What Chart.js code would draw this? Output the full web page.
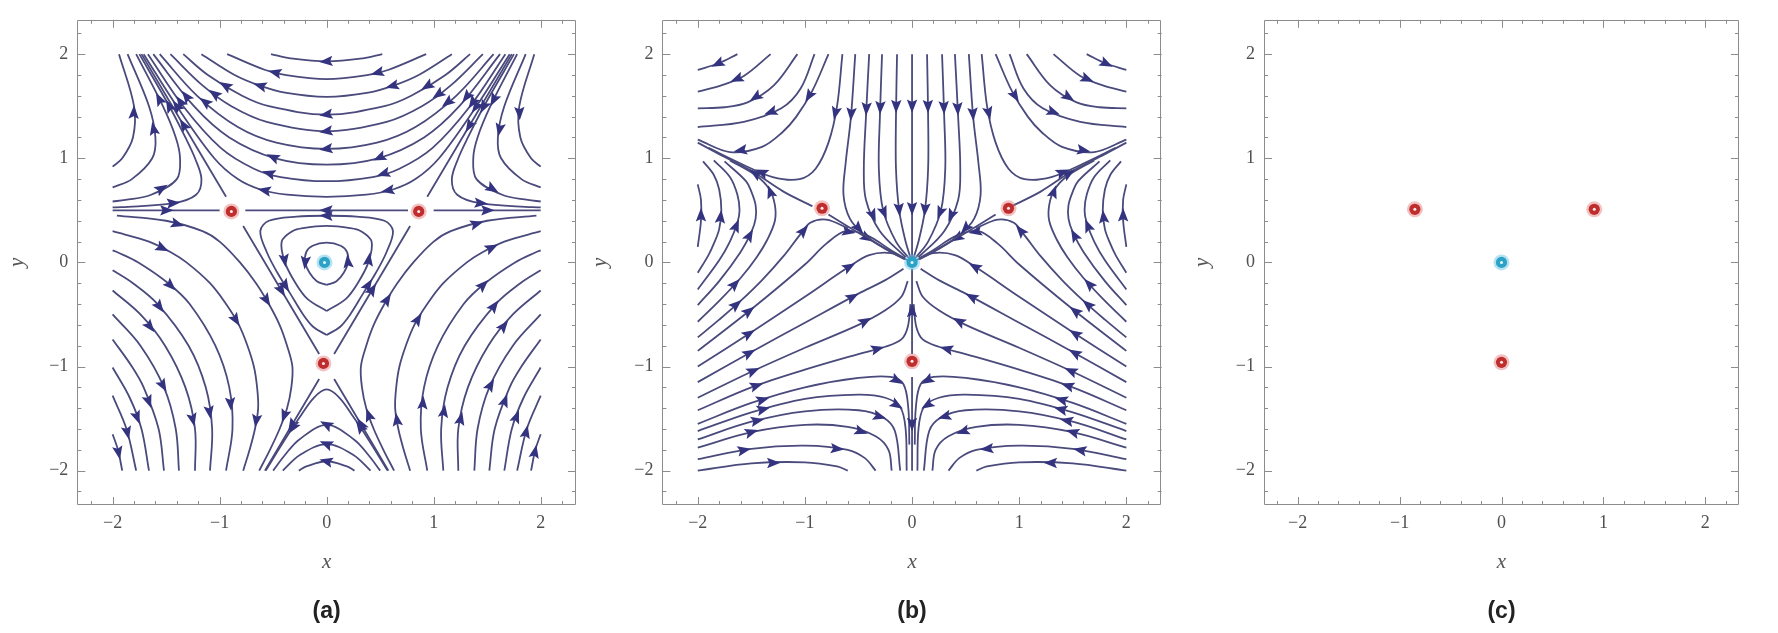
<!DOCTYPE html>
<html><head><meta charset="utf-8">
<script src="https://cdn.jsdelivr.net/npm/chart.js@4.4.1/dist/chart.umd.min.js"></script>
<style>
html,body{margin:0;padding:0;background:#fff;}
body{width:1778px;height:633px;position:relative;overflow:hidden;}
canvas{position:absolute;top:0;}
</style></head><body>
<canvas id="ca" width="590" height="633" style="left:0px"></canvas>
<canvas id="cb" width="596" height="633" style="left:580px"></canvas>
<canvas id="cc" width="583" height="633" style="left:1170px"></canvas>
<script>
// ---------- axis ticks ----------
const majorTicks = [-2, -1, 0, 1, 2];
const minorTicks = [-2.2,-1.8,-1.6,-1.4,-1.2,-0.8,-0.6,-0.4,-0.2,0.2,0.4,0.6,0.8,1.2,1.4,1.6,1.8,2.2];
const panelLabels = ['(a)', '(b)', '(c)'];

// ---------- fixed points ----------
const aRed = [-0.89,0.49, 0.86,0.49, -0.03,-0.97];
const aBlue = [-0.02,0];
const bRed = [-0.84,0.52, 0.9,0.52, 0,-0.95];
const bBlue = [0,0];
const cRed = [-0.85,0.51, 0.91,0.51, 0,-0.96];
const cBlue = [0,0];

// ---------- panel (a) streamlines (x,y pairs in flow order) ----------
const aTopArcs = [
 [0.52,2, 0.34,1.96, 0,1.93, -0.34,1.96, -0.52,2],
 [0.93,2, 0.58,1.85, 0.39,1.8, 0,1.76, -0.39,1.8, -0.58,1.85, -0.93,2],
 [1.17,2, 0.86,1.8, 0.63,1.7, 0.39,1.63, 0,1.59, -0.39,1.63, -0.63,1.7, -0.86,1.8, -1.17,2],
 [1.34,2, 1.11,1.8, 0.79,1.6, 0.54,1.5, 0,1.42, -0.54,1.5, -0.79,1.6, -1.11,1.8, -1.34,2],
 [1.46,2, 1.16,1.7, 0.89,1.5, 0.56,1.35, 0,1.26, -0.56,1.35, -0.89,1.5, -1.16,1.7, -1.46,2],
 [1.56,2, 1.21,1.6, 0.83,1.3, 0.47,1.15, 0,1.09, -0.47,1.15, -0.83,1.3, -1.21,1.6, -1.56,2],
 [1.62,2, 1.24,1.5, 0.91,1.2, 0.48,1.0, 0,0.94, -0.48,1.0, -0.91,1.2, -1.24,1.5, -1.62,2],
 [1.67,2, 1.34,1.5, 0.99,1.1, 0.68,0.9, 0.43,0.82, 0,0.78, -0.43,0.82, -0.68,0.9, -0.99,1.1, -1.34,1.5, -1.67,2],
 [1.71,2, 1.40,1.5, 1.05,1.0, 0.83,0.8, 0.62,0.7, 0.37,0.65, 0,0.63, -0.37,0.65, -0.62,0.7, -0.83,0.8, -1.05,1.0, -1.40,1.5, -1.71,2]
];
const aCornerTR = [
 [1.94,2, 1.80,1.5, 1.81,1.2, 1.91,1.0, 2,0.92],
 [1.86,2, 1.66,1.5, 1.60,1.2, 1.63,1.0, 1.82,0.8, 2,0.72],
 [1.78,2, 1.53,1.5, 1.41,1.2, 1.37,1.0, 1.40,0.8, 1.64,0.65, 1.88,0.6, 2,0.585],
 [1.75,2, 1.47,1.5, 1.32,1.2, 1.23,1.0, 1.17,0.8, 1.22,0.65, 1.43,0.57, 1.92,0.53, 2,0.528]
];
const aCornerTL = [
 [-2,0.92, -1.91,1.0, -1.81,1.2, -1.80,1.5, -1.94,2],
 [-2,0.72, -1.82,0.8, -1.63,1.0, -1.60,1.2, -1.66,1.5, -1.86,2],
 [-2,0.585, -1.88,0.6, -1.64,0.65, -1.40,0.8, -1.37,1.0, -1.41,1.2, -1.53,1.5, -1.78,2],
 [-2,0.528, -1.92,0.53, -1.43,0.57, -1.22,0.65, -1.17,0.8, -1.23,1.0, -1.32,1.2, -1.47,1.5, -1.75,2]
];
const aRight = [
 [0.63,-2, 0.53,-1.8, 0.44,-1.6, 0.37,-1.4, 0.33,-1.2, 0.32,-1.0, 0.37,-0.8, 0.44,-0.6, 0.54,-0.4, 0.66,-0.2, 0.81,0, 1.00,0.2, 1.16,0.3, 1.50,0.4, 1.96,0.45],
 [0.78,-2, 0.72,-1.8, 0.67,-1.6, 0.64,-1.4, 0.65,-1.2, 0.68,-1.0, 0.74,-0.8, 0.82,-0.6, 0.94,-0.4, 1.09,-0.2, 1.31,0, 1.46,0.1, 1.66,0.2, 2.0,0.3],
 [0.94,-2, 0.88,-1.6, 0.91,-1.2, 1.04,-0.8, 1.28,-0.4, 1.48,-0.2, 1.76,0, 1.96,0.1, 2.0,0.116],
 [1.09,-2, 1.07,-1.6, 1.13,-1.2, 1.29,-0.8, 1.58,-0.4, 1.81,-0.2, 2.0,-0.075],
 [1.23,-2, 1.23,-1.6, 1.32,-1.2, 1.51,-0.8, 1.74,-0.5, 2.0,-0.27],
 [1.38,-2, 1.41,-1.6, 1.52,-1.2, 1.74,-0.8, 2.0,-0.5],
 [1.52,-2, 1.57,-1.6, 1.71,-1.2, 1.82,-1.0, 2.0,-0.74],
 [1.66,-2, 1.73,-1.6, 1.84,-1.3, 2.0,-1.01],
 [1.78,-2, 1.87,-1.6, 2.0,-1.28],
 [1.91,-2, 1.95,-1.8, 2.0,-1.65]
];
const aLeft = [
 [-1.96,0.45, -1.50,0.4, -1.16,0.3, -1.00,0.2, -0.81,0, -0.66,-0.2, -0.54,-0.4, -0.44,-0.6, -0.37,-0.8, -0.32,-1.0, -0.33,-1.2, -0.37,-1.4, -0.44,-1.6, -0.53,-1.8, -0.63,-2],
 [-2.0,0.3, -1.66,0.2, -1.46,0.1, -1.31,0, -1.09,-0.2, -0.94,-0.4, -0.82,-0.6, -0.74,-0.8, -0.68,-1.0, -0.65,-1.2, -0.64,-1.4, -0.67,-1.6, -0.72,-1.8, -0.78,-2],
 [-2.0,0.116, -1.96,0.1, -1.76,0, -1.48,-0.2, -1.28,-0.4, -1.04,-0.8, -0.91,-1.2, -0.88,-1.6, -0.94,-2],
 [-2.0,-0.075, -1.81,-0.2, -1.58,-0.4, -1.29,-0.8, -1.13,-1.2, -1.07,-1.6, -1.09,-2],
 [-2.0,-0.27, -1.74,-0.5, -1.51,-0.8, -1.32,-1.2, -1.23,-1.6, -1.23,-2],
 [-2.0,-0.5, -1.74,-0.8, -1.52,-1.2, -1.41,-1.6, -1.38,-2],
 [-2.0,-0.74, -1.82,-1.0, -1.71,-1.2, -1.57,-1.6, -1.52,-2],
 [-2.0,-1.01, -1.84,-1.3, -1.73,-1.6, -1.66,-2],
 [-2.0,-1.28, -1.87,-1.6, -1.78,-2],
 [-2.0,-1.65, -1.95,-1.8, -1.91,-2]
];
const aCaps = [
 [0.57,-2, 0.39,-1.7, 0.26,-1.5, 0.12,-1.3, 0,-1.22, -0.12,-1.3, -0.26,-1.5, -0.39,-1.7, -0.57,-2],
 [0.50,-2, 0.39,-1.85, 0.255,-1.7, 0,-1.56, -0.255,-1.7, -0.39,-1.85, -0.50,-2],
 [0.41,-2, 0.25,-1.85, 0,-1.745, -0.25,-1.85, -0.41,-2],
 [0.26,-2, 0.19,-1.96, 0,-1.91, -0.19,-1.96, -0.26,-2]
];
const aOrbits = [
 [0,-0.216, 0.092,-0.18, 0.16,-0.1, 0.2,0, 0.19,0.1, 0.131,0.16, 0,0.189, -0.131,0.16, -0.19,0.1, -0.2,0, -0.16,-0.1, -0.092,-0.18, 0,-0.216],
 [0,-0.467, 0.18,-0.35, 0.29,-0.2, 0.39,0, 0.42,0.2, 0.32,0.3, 0.22,0.33, 0,0.35, -0.22,0.33, -0.32,0.3, -0.42,0.2, -0.39,0, -0.29,-0.2, -0.18,-0.35, 0,-0.467],
 [0,-0.697, 0.124,-0.62, 0.22,-0.5, 0.34,-0.3, 0.46,-0.1, 0.56,0.1, 0.62,0.3, 0.54,0.4, 0.28,0.44, 0,0.448, -0.28,0.44, -0.54,0.4, -0.62,0.3, -0.56,0.1, -0.46,-0.1, -0.34,-0.3, -0.22,-0.5, -0.124,-0.62, 0,-0.697]
];
const aSeparatrices = [
 [-2,0.5, -1.0,0.5],
 [0.76,0.5, -0.76,0.5],
 [1.0,0.5, 2,0.5],
 [0.07,-0.88, 0.78,0.35],
 [-0.78,0.35, -0.07,-0.88],
 [-0.07,-1.12, -0.577,-2],
 [0.577,-2, 0.07,-1.12],
 [1.73,2, 0.94,0.63],
 [-0.94,0.63, -1.73,2]
];

// ---------- panel (b) streamlines ----------
const bCenter = [
 [0,2, 0,0.03],
 [0,-0.88, 0,-0.06],
 [0,-1.1, 0,-2.0]
];
const bTopLeft = [
 [-0.14,2, -0.15,1.4, -0.15,0.9, -0.12,0.5, -0.06,0.2, -0.01,0.03],
 [-0.28,2, -0.30,1.4, -0.31,0.9, -0.27,0.5, -0.15,0.2, -0.03,0.04],
 [-0.40,2, -0.43,1.4, -0.45,0.9, -0.43,0.6, -0.3,0.3, -0.06,0.05],
 [-0.53,2, -0.57,1.4, -0.62,0.95, -0.64,0.65, -0.58,0.42, -0.45,0.27, -0.25,0.13, -0.04,0.02],
 [-0.65,2, -0.70,1.5, -0.78,1.15, -0.9,0.9, -1.05,0.8, -1.3,0.82, -1.6,0.95, -1.9,1.1],
 [-1.63,2, -1.81,1.91, -2.0,1.85],
 [-1.32,2, -1.57,1.79, -1.78,1.70, -2.0,1.64],
 [-1.07,2, -1.29,1.70, -1.53,1.54, -1.75,1.49, -2.0,1.48],
 [-0.91,2, -1.04,1.67, -1.22,1.48, -1.57,1.35, -2.0,1.30],
 [-0.78,2, -0.93,1.65, -1.08,1.4, -1.21,1.25, -1.4,1.11, -1.7,1.06, -2.0,1.18]
];
const bTopRight = [
 [0.14,2, 0.15,1.4, 0.15,0.9, 0.12,0.5, 0.06,0.2, 0.01,0.03],
 [0.28,2, 0.30,1.4, 0.31,0.9, 0.27,0.5, 0.15,0.2, 0.03,0.04],
 [0.40,2, 0.43,1.4, 0.45,0.9, 0.43,0.6, 0.3,0.3, 0.06,0.05],
 [0.53,2, 0.57,1.4, 0.62,0.95, 0.64,0.65, 0.58,0.42, 0.45,0.27, 0.25,0.13, 0.04,0.02],
 [0.65,2, 0.70,1.5, 0.78,1.15, 0.9,0.9, 1.05,0.8, 1.3,0.82, 1.6,0.95, 1.9,1.1],
 [1.63,2, 1.81,1.91, 2.0,1.85],
 [1.32,2, 1.57,1.79, 1.78,1.70, 2.0,1.64],
 [1.07,2, 1.29,1.70, 1.53,1.54, 1.75,1.49, 2.0,1.48],
 [0.91,2, 1.04,1.67, 1.22,1.48, 1.57,1.35, 2.0,1.30],
 [0.78,2, 0.93,1.65, 1.08,1.4, 1.21,1.25, 1.4,1.11, 1.7,1.06, 2.0,1.18]
];
const bSeparatrices = [
 [-0.93,0.54, -1.2,0.68, -1.5,0.88, -1.8,1.04, -2.0,1.15],
 [-0.78,0.46, -0.56,0.32, -0.33,0.18, -0.06,0.03],
 [0.93,0.54, 1.2,0.68, 1.5,0.88, 1.8,1.04, 2.0,1.15],
 [0.78,0.46, 0.56,0.32, 0.33,0.18, 0.06,0.03]
];
const bArcsLeft = [
 [-2.0,0.15, -1.97,0.4, -1.97,0.6, -2.0,0.75],
 [-2,-0.1, -1.9,0.07, -1.85,0.18, -1.8,0.32, -1.78,0.5, -1.8,0.7, -1.85,0.84, -1.95,0.97],
 [-2,-0.26, -1.8,0.02, -1.7,0.2, -1.63,0.38, -1.61,0.5, -1.63,0.65, -1.7,0.82, -1.85,0.98],
 [-2,-0.41, -1.8,-0.18, -1.6,0.1, -1.5,0.29, -1.46,0.42, -1.46,0.55, -1.5,0.68, -1.55,0.78, -1.75,0.97],
 [-2,-0.57, -1.8,-0.37, -1.6,-0.15, -1.45,0.05, -1.35,0.22, -1.28,0.4, -1.28,0.55, -1.33,0.7, -1.45,0.83, -1.7,0.98]
];
const bArcsRight = [
 [2.0,0.15, 1.97,0.4, 1.97,0.6, 2.0,0.75],
 [2,-0.1, 1.9,0.07, 1.85,0.18, 1.8,0.32, 1.78,0.5, 1.8,0.7, 1.85,0.84, 1.95,0.97],
 [2,-0.26, 1.8,0.02, 1.7,0.2, 1.63,0.38, 1.61,0.5, 1.63,0.65, 1.7,0.82, 1.85,0.98],
 [2,-0.41, 1.8,-0.18, 1.6,0.1, 1.5,0.29, 1.46,0.42, 1.46,0.55, 1.5,0.68, 1.55,0.78, 1.75,0.97],
 [2,-0.57, 1.8,-0.37, 1.6,-0.15, 1.45,0.05, 1.35,0.22, 1.28,0.4, 1.28,0.55, 1.33,0.7, 1.45,0.83, 1.7,0.98]
];
const bOriginLeft = [
 [-2,-0.72, -1.8,-0.55, -1.6,-0.37, -1.4,-0.17, -1.2,0.06, -1.05,0.26, -0.95,0.38, -0.8,0.41, -0.6,0.33],
 [-2,-0.85, -1.5,-0.45, -1.0,-0.02, -0.8,0.18, -0.62,0.3, -0.42,0.26, -0.2,0.12, -0.06,0.035],
 [-2,-1, -1.5,-0.67, -1,-0.33, -0.6,-0.05, -0.4,0.07, -0.2,0.09, -0.07,0.03],
 [-2,-1.15, -1.5,-0.86, -1.0,-0.58, -0.5,-0.3, -0.25,-0.17, -0.08,-0.06],
 [-2,-1.3, -1.5,-1.05, -1,-0.82, -0.5,-0.6, -0.25,-0.46, -0.1,-0.33, -0.04,-0.18],
 [-2,-1.42, -1.5,-1.2, -1.0,-1.03, -0.5,-0.88, -0.25,-0.81, -0.1,-0.74, -0.04,-0.62, -0.015,-0.4]
];
const bOriginRight = [
 [2,-0.72, 1.8,-0.55, 1.6,-0.37, 1.4,-0.17, 1.2,0.06, 1.05,0.26, 0.95,0.38, 0.8,0.41, 0.6,0.33],
 [2,-0.85, 1.5,-0.45, 1.0,-0.02, 0.8,0.18, 0.62,0.3, 0.42,0.26, 0.2,0.12, 0.06,0.035],
 [2,-1, 1.5,-0.67, 1,-0.33, 0.6,-0.05, 0.4,0.07, 0.2,0.09, 0.07,0.03],
 [2,-1.15, 1.5,-0.86, 1.0,-0.58, 0.5,-0.3, 0.25,-0.17, 0.08,-0.06],
 [2,-1.3, 1.5,-1.05, 1,-0.82, 0.5,-0.6, 0.25,-0.46, 0.1,-0.33, 0.04,-0.18],
 [2,-1.42, 1.5,-1.2, 1.0,-1.03, 0.5,-0.88, 0.25,-0.81, 0.1,-0.74, 0.04,-0.62, 0.015,-0.4]
];
const bDownLeft = [
 [-2,-1.55, -1.5,-1.35, -1.0,-1.2, -0.5,-1.11, -0.2,-1.1, -0.08,-1.17, -0.035,-1.4, -0.025,-1.75],
 [-2,-1.62, -1.5,-1.44, -1,-1.31, -0.5,-1.27, -0.25,-1.3, -0.11,-1.39, -0.06,-1.6, -0.05,-2.0],
 [-2,-1.7, -1.5,-1.53, -1,-1.43, -0.5,-1.42, -0.27,-1.49, -0.16,-1.62, -0.11,-2.0],
 [-2,-1.78, -1.5,-1.63, -1,-1.56, -0.6,-1.58, -0.34,-1.67, -0.22,-1.8, -0.19,-2.0],
 [-2,-1.89, -1.5,-1.79, -1,-1.76, -0.6,-1.8, -0.44,-1.88, -0.34,-2.0],
 [-2,-2, -1.5,-1.93, -1,-1.92, -0.7,-1.96, -0.6,-2.0]
];
const bDownRight = [
 [2,-1.55, 1.5,-1.35, 1.0,-1.2, 0.5,-1.11, 0.2,-1.1, 0.08,-1.17, 0.035,-1.4, 0.025,-1.75],
 [2,-1.62, 1.5,-1.44, 1,-1.31, 0.5,-1.27, 0.25,-1.3, 0.11,-1.39, 0.06,-1.6, 0.05,-2.0],
 [2,-1.7, 1.5,-1.53, 1,-1.43, 0.5,-1.42, 0.27,-1.49, 0.16,-1.62, 0.11,-2.0],
 [2,-1.78, 1.5,-1.63, 1,-1.56, 0.6,-1.58, 0.34,-1.67, 0.22,-1.8, 0.19,-2.0],
 [2,-1.89, 1.5,-1.79, 1,-1.76, 0.6,-1.8, 0.44,-1.88, 0.34,-2.0],
 [2,-2, 1.5,-1.93, 1,-1.92, 0.7,-1.96, 0.6,-2.0]
];

// ---------- styling ----------
const LINE_COLOR = '#4a4a7c';
const HEAD_COLOR = '#33337f';
const FRAME_COLOR = '#8c8c8c';
const ARROW_GAP = 118;

function toPts(flat){ const p=[]; for(let i=0;i<flat.length;i+=2) p.push({x:flat[i], y:flat[i+1]}); return p; }
function streams(groups, minArrows){
  const out=[];
  groups.forEach(flat=>{
    out.push({type:'scatter', data:toPts(flat), showLine:true, borderColor:LINE_COLOR, borderWidth:1.8,
      pointRadius:0, pointHoverRadius:0, tension:0.35, fill:false, order:10, stream:true, minArrows:minArrows||1});
  });
  return out;
}
function fixedPoints(arr, halo, core, dot){
  return [
    {type:'scatter', data:toPts(arr), pointRadius:8, backgroundColor:halo, borderWidth:0, order:-1},
    {type:'scatter', data:toPts(arr), pointRadius:5.6, backgroundColor:core, borderWidth:0, order:-2},
    {type:'scatter', data:toPts(arr), pointRadius:1.5, backgroundColor:dot, borderWidth:0, order:-3}
  ];
}
function drawHead(ctx,x,y,ang){
  ctx.save(); ctx.translate(x,y); ctx.rotate(ang);
  ctx.beginPath(); ctx.moveTo(7.5,0); ctx.lineTo(-6,5.2); ctx.lineTo(-3.5,0); ctx.lineTo(-6,-5.2); ctx.closePath();
  ctx.fillStyle=HEAD_COLOR; ctx.fill(); ctx.restore();
}
const arrowPlugin = {
  id:'arrows',
  afterDatasetDraw(chart, args){
    const ds = chart.data.datasets[args.index];
    if(!ds.stream) return;
    const pts = args.meta.data; if(pts.length<2) return;
    const ctx = chart.ctx, a = chart.chartArea;
    const seg=[]; let L=0;
    for(let k=1;k<pts.length;k++){ const l=Math.hypot(pts[k].x-pts[k-1].x, pts[k].y-pts[k-1].y); seg.push(l); L+=l; }
    const n = Math.max(ds.minArrows, Math.round(L/ARROW_GAP));
    ctx.save(); ctx.beginPath(); ctx.rect(a.left,a.top,a.width,a.height); ctx.clip();
    for(let j=0;j<n;j++){
      let t=(j+0.5)/n*L, k=0;
      while(k<seg.length-1 && t>seg[k]){ t-=seg[k]; k++; }
      const f = seg[k] ? t/seg[k] : 0;
      const p0=pts[k], p1=pts[k+1];
      drawHead(ctx, p0.x+(p1.x-p0.x)*f, p0.y+(p1.y-p0.y)*f, Math.atan2(p1.y-p0.y, p1.x-p0.x));
    }
    ctx.restore();
  }
};
const framePlugin = {
  id:'frame',
  afterDraw(chart){
    const {ctx, chartArea:a, scales:{x,y}} = chart;
    ctx.save(); ctx.strokeStyle=FRAME_COLOR; ctx.lineWidth=1; ctx.beginPath();
    ctx.rect(Math.round(a.left)+0.5, Math.round(a.top)+0.5, Math.round(a.width)-1, Math.round(a.height)-1);
    const tick=(v,len)=>{
      const px=Math.round(x.getPixelForValue(v))+0.5;
      ctx.moveTo(px,a.bottom); ctx.lineTo(px,a.bottom-len); ctx.moveTo(px,a.top); ctx.lineTo(px,a.top+len);
      const py=Math.round(y.getPixelForValue(v))+0.5;
      ctx.moveTo(a.left,py); ctx.lineTo(a.left+len,py); ctx.moveTo(a.right,py); ctx.lineTo(a.right-len,py);
    };
    majorTicks.forEach(v=>tick(v,8)); minorTicks.forEach(v=>tick(v,4));
    ctx.stroke(); ctx.restore();
  }
};
const fmt = v => v<0 ? '\u2212'+(-v) : String(v);
const TICK_FONT = {family:'"Liberation Serif", "DejaVu Serif", serif', size:18};
const TITLE_FONT = {family:'"Liberation Serif", "DejaVu Serif", serif', size:21, style:'italic'};

function makeChart(id, datasets, label, yWidth, yTitlePad, rightPad){
  return new Chart(document.getElementById(id), {
    type:'scatter',
    data:{datasets},
    options:{
      responsive:false, animation:false, devicePixelRatio:1,
      layout:{padding:{top:7, bottom:8, left:0, right:rightPad}, autoPadding:false},
      plugins:{
        legend:{display:false}, tooltip:{enabled:false},
        title:{display:true, text:label, position:'bottom', fullSize:false, padding:0,
          font:{family:'"Liberation Sans", Arial, sans-serif', size:23, weight:'bold'}, color:'#222'}
      },
      scales:{
        x:{type:'linear', min:-2.33, max:2.33,
          afterBuildTicks:s=>{ s.ticks = majorTicks.map(v=>({value:v})); },
          afterFit:s=>{ s.height = 92.4; },
          grid:{display:false, drawTicks:false}, border:{display:false},
          ticks:{padding:7, font:TICK_FONT, color:'#505050', callback:fmt, maxRotation:0, autoSkip:false},
          title:{display:true, text:'x', font:TITLE_FONT, color:'#555', padding:{top:0, bottom:22.8}}},
        y:{type:'linear', min:-2.33, max:2.33,
          afterBuildTicks:s=>{ s.ticks = majorTicks.map(v=>({value:v})); },
          afterFit:s=>{ s.width = yWidth; },
          grid:{display:false, drawTicks:false}, border:{display:false},
          ticks:{padding:9, font:TICK_FONT, color:'#505050', callback:fmt, autoSkip:false},
          title:{display:true, text:'y', font:TITLE_FONT, color:'#555', padding:{top:yTitlePad, bottom:0}}}
      }
    },
    plugins:[arrowPlugin, framePlugin]
  });
}

const redHalo='rgba(226,120,120,0.45)', redCore='#bf2d2d', redDot='#ffe9e9';
const blueHalo='rgba(110,200,230,0.5)', blueCore='#2ba2c6', blueDot='#e6f7ff';

const dsA = [].concat(
  streams(aTopArcs), streams(aCornerTR), streams(aCornerTL), streams(aRight), streams(aLeft),
  streams(aCaps), streams(aOrbits, 2), streams(aSeparatrices),
  fixedPoints(aRed, redHalo, redCore, redDot), fixedPoints(aBlue, blueHalo, blueCore, blueDot));
const dsB = [].concat(
  streams(bCenter), streams(bTopLeft), streams(bTopRight), streams(bSeparatrices),
  streams(bArcsLeft), streams(bArcsRight), streams(bOriginLeft), streams(bOriginRight),
  streams(bDownLeft), streams(bDownRight),
  fixedPoints(bRed, redHalo, redCore, redDot), fixedPoints(bBlue, blueHalo, blueCore, blueDot));
const dsC = [].concat(
  fixedPoints(cRed, redHalo, redCore, redDot), fixedPoints(cBlue, blueHalo, blueCore, blueDot));

makeChart('ca', dsA, panelLabels[0], 77.3, 4.4, 14);
makeChart('cb', dsB, panelLabels[1], 82.4, 7.4, 14.3);
makeChart('cc', dsC, panelLabels[2], 94, 19.4, 14);
</script></body></html>
